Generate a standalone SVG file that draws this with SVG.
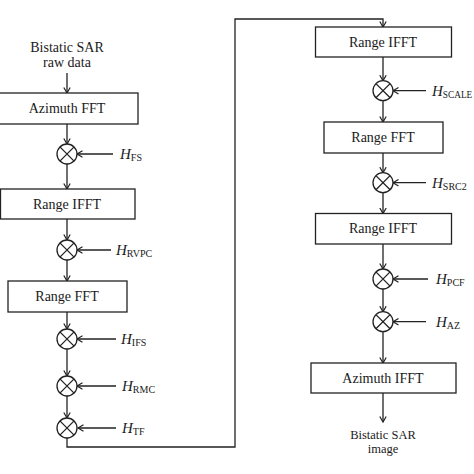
<svg xmlns="http://www.w3.org/2000/svg" width="474" height="474" viewBox="0 0 474 474">
<defs>
<marker id="ah" markerUnits="userSpaceOnUse" markerWidth="10" markerHeight="10" refX="6" refY="4" orient="auto">
<path d="M0.5,0.8 L6,4 L0.5,7.2" fill="none" stroke="#222" stroke-width="1.2"/>
</marker>
<style>
.bg{fill:#fff}
.box{fill:#fff;stroke:#222;stroke-width:1.3}
.mul{fill:#fff;stroke:#222;stroke-width:1.3}
.ln{fill:none;stroke:#222;stroke-width:1.3}
.ar{fill:none;stroke:#222;stroke-width:1.3;marker-end:url(#ah)}
.t{font-family:"Liberation Serif","Times New Roman",serif;font-size:14px;fill:#1a1a1a;text-anchor:middle}
.o{font-size:12.5px}
.h{font-family:"Liberation Serif","Times New Roman",serif;font-size:15px;font-style:italic;fill:#1a1a1a}
.s{font-size:10px;font-style:normal}
.s2{font-size:9.3px}
</style>
</defs>
<rect class="bg" x="0" y="0" width="474" height="474"/>
<g id="connectors">
<line class="ar" x1="67" y1="73" x2="67" y2="93"/>
<line class="ar" x1="67" y1="124" x2="67" y2="144"/>
<line class="ar" x1="113" y1="154" x2="77" y2="154"/>
<line class="ar" x1="67" y1="164" x2="67" y2="189"/>
<line class="ar" x1="67" y1="219" x2="67" y2="240"/>
<line class="ar" x1="111" y1="250" x2="77" y2="250"/>
<line class="ar" x1="67" y1="260" x2="67" y2="281"/>
<line class="ar" x1="67" y1="312" x2="67" y2="329"/>
<line class="ar" x1="116" y1="339" x2="77" y2="339"/>
<line class="ar" x1="67" y1="349" x2="67" y2="376"/>
<line class="ar" x1="116" y1="386" x2="77" y2="386"/>
<line class="ar" x1="67" y1="396" x2="67" y2="418"/>
<line class="ar" x1="116" y1="428" x2="78" y2="428"/>
<path class="ar" d="M67,438 V447 H235 V19 H383 V27"/>
<line class="ar" x1="383" y1="57" x2="383" y2="80.7"/>
<line class="ar" x1="426" y1="90.7" x2="393" y2="90.7"/>
<line class="ar" x1="383" y1="101" x2="383" y2="122"/>
<line class="ar" x1="383" y1="153" x2="383" y2="172.7"/>
<line class="ar" x1="426" y1="182.7" x2="393" y2="182.7"/>
<line class="ar" x1="383" y1="193" x2="383" y2="213.5"/>
<line class="ar" x1="383" y1="244" x2="383" y2="269"/>
<line class="ar" x1="428" y1="279" x2="393" y2="279"/>
<line class="ar" x1="383" y1="289" x2="383" y2="311.7"/>
<line class="ar" x1="426" y1="321.7" x2="393" y2="321.7"/>
<line class="ar" x1="383" y1="331.7" x2="383" y2="363"/>
<line class="ar" x1="383" y1="393" x2="383" y2="422"/>
</g>
<g id="input"><text class="t" x="67" y="52">Bistatic SAR</text><text class="t" x="67" y="67">raw data</text></g>
<g id="azfft"><rect class="box" x="-2" y="93" width="140" height="31"/><text class="t" x="67" y="113">Azimuth FFT</text></g>
<g id="m1"><circle class="mul" cx="67" cy="154" r="10"/><path class="ln" d="M59.9,146.9 L74.1,161.1 M74.1,146.9 L59.9,161.1"/></g>
<g id="hfs"><text class="h" x="120" y="159">H<tspan class="s" dy="1.5">FS</tspan></text></g>
<g id="rifft1"><rect class="box" x="0.5" y="189" width="134.5" height="30"/><text class="t" x="67" y="209">Range IFFT</text></g>
<g id="m2"><circle class="mul" cx="67" cy="250" r="10"/><path class="ln" d="M59.9,242.9 L74.1,257.1 M74.1,242.9 L59.9,257.1"/></g>
<g id="hrvpc"><text class="h" x="116" y="255">H<tspan class="s" dy="1.5">RVPC</tspan></text></g>
<g id="rfft1"><rect class="box" x="8" y="281" width="119" height="31"/><text class="t" x="67" y="301">Range FFT</text></g>
<g id="m3"><circle class="mul" cx="67" cy="339" r="10"/><path class="ln" d="M59.9,331.9 L74.1,346.1 M74.1,331.9 L59.9,346.1"/></g>
<g id="hifs"><text class="h" x="121" y="344">H<tspan class="s" dy="1.5">IFS</tspan></text></g>
<g id="m4"><circle class="mul" cx="67" cy="386" r="10"/><path class="ln" d="M59.9,378.9 L74.1,393.1 M74.1,378.9 L59.9,393.1"/></g>
<g id="hrmc"><text class="h" x="122" y="391">H<tspan class="s" dy="1.5">RMC</tspan></text></g>
<g id="m5"><circle class="mul" cx="67" cy="428" r="10"/><path class="ln" d="M59.9,420.9 L74.1,435.1 M74.1,420.9 L59.9,435.1"/></g>
<g id="htf"><text class="h" x="122" y="433">H<tspan class="s" dy="1.5">TF</tspan></text></g>
<g id="rifft2"><rect class="box" x="315.5" y="27" width="136" height="30"/><text class="t" x="383" y="47">Range IFFT</text></g>
<g id="m6"><circle class="mul" cx="383" cy="90.7" r="10"/><path class="ln" d="M375.9,83.6 L390.1,97.8 M390.1,83.6 L375.9,97.8"/></g>
<g id="hscale"><text class="h" x="432" y="96">H<tspan class="s s2" dy="1.5">SCALE</tspan></text></g>
<g id="rfft2"><rect class="box" x="324" y="122" width="119" height="31"/><text class="t" x="383" y="142">Range FFT</text></g>
<g id="m7"><circle class="mul" cx="383" cy="182.7" r="10"/><path class="ln" d="M375.9,175.6 L390.1,189.8 M390.1,175.6 L375.9,189.8"/></g>
<g id="hsrc2"><text class="h" x="432" y="188">H<tspan class="s" dy="1.5">SRC2</tspan></text></g>
<g id="rifft3"><rect class="box" x="315.5" y="213.5" width="136" height="30.5"/><text class="t" x="383" y="233">Range IFFT</text></g>
<g id="m8"><circle class="mul" cx="383" cy="279" r="10"/><path class="ln" d="M375.9,271.9 L390.1,286.1 M390.1,271.9 L375.9,286.1"/></g>
<g id="hpcf"><text class="h" x="436" y="284">H<tspan class="s" dy="1.5">PCF</tspan></text></g>
<g id="m9"><circle class="mul" cx="383" cy="321.7" r="10"/><path class="ln" d="M375.9,314.6 L390.1,328.8 M390.1,314.6 L375.9,328.8"/></g>
<g id="haz"><text class="h" x="436" y="327">H<tspan class="s" dy="1.5">AZ</tspan></text></g>
<g id="azifft"><rect class="box" x="311" y="363" width="145" height="30"/><text class="t" x="383" y="383">Azimuth IFFT</text></g>
<g id="output"><text class="t o" x="383" y="438.5">Bistatic SAR</text><text class="t o" x="383" y="452.5">image</text></g>
</svg>
